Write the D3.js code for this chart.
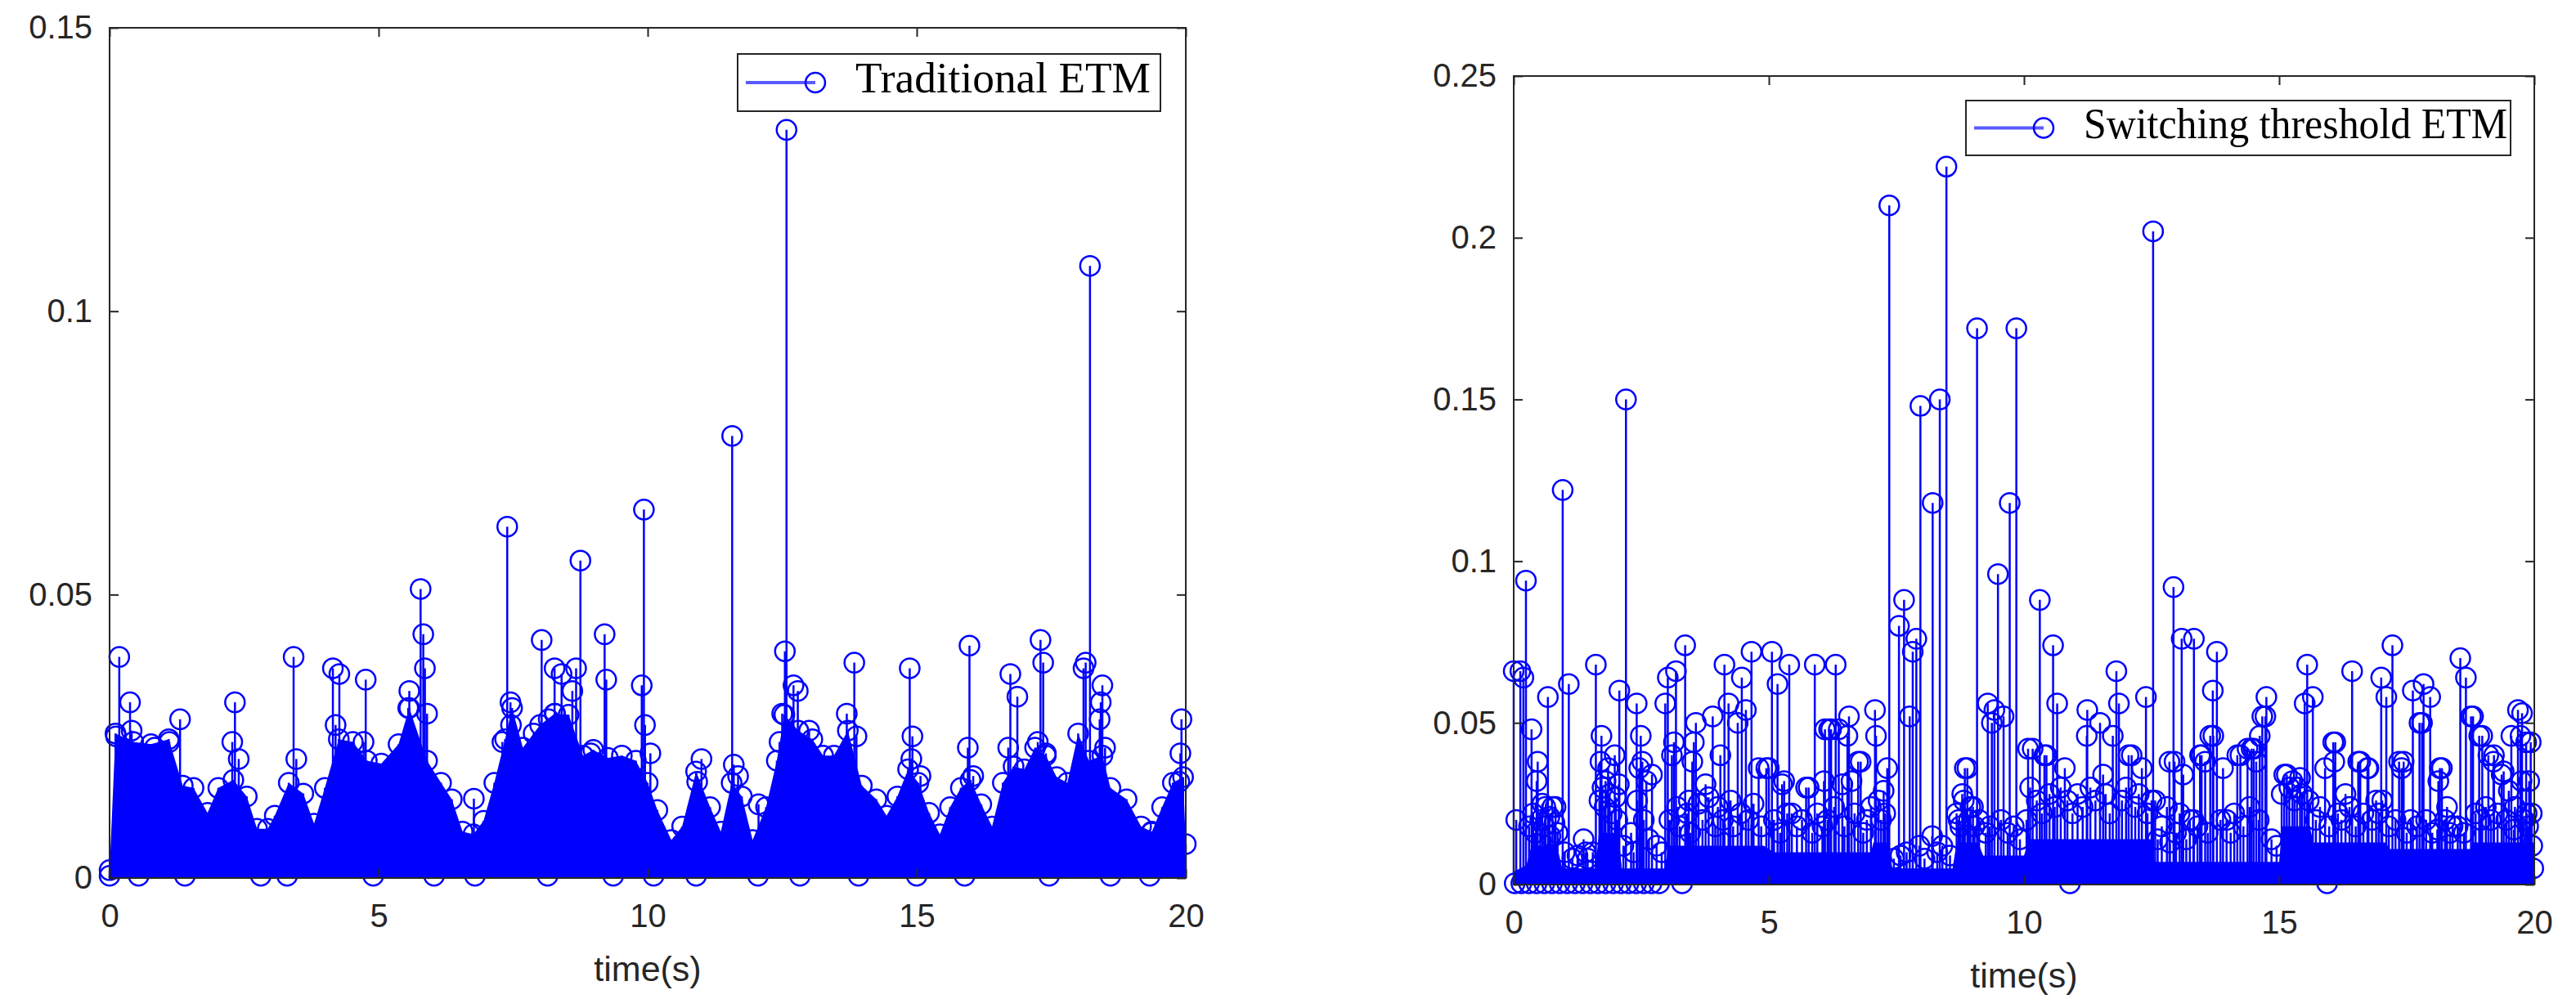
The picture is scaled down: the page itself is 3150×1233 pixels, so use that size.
<!DOCTYPE html>
<html>
<head>
<meta charset="utf-8">
<script src="https://d3js.org/d3.v7.min.js"></script>
<style>
  body { margin: 0; background: #fff; }
  svg { display: block; }
  .tick text { font-family: "Liberation Sans", Arial, sans-serif; font-size: 40px; fill: #262626; }
  .tick line { stroke: #262626; stroke-width: 2; }
  .xlabel { font-family: "Liberation Sans", Arial, sans-serif; font-size: 43px; fill: #262626; }
  .legend text { font-family: "Liberation Serif", "DejaVu Serif", serif; font-size: 52px; fill: #000; }
</style>
</head>
<body>
<div id="chart"></div>
<script>
// ---- data: [time (s), value] ----

// traditional ETM: stems standing out above the dense band
var tradPeaks = [
  [0.12,0.025],[0.18,0.039],[0.38,0.031],[0.41,0.026],[0.84,0.023],[1.11,0.024],[1.31,0.028],
  [2.28,0.024],[2.33,0.031],[2.40,0.021],[3.42,0.039],[3.47,0.021],[4.15,0.037],[4.20,0.027],
  [4.27,0.036],[4.72,0.024],[4.76,0.035],[5.55,0.030],[5.57,0.033],[5.78,0.051],[5.83,0.043],
  [5.86,0.037],[5.90,0.029],[6.77,0.014],[7.30,0.024],[7.39,0.062],[7.45,0.031],[7.46,0.027],
  [8.03,0.042],[8.16,0.028],[8.27,0.037],[8.28,0.029],[8.40,0.036],[8.60,0.033],[8.67,0.037],
  [8.75,0.056],[8.94,0.022],[9.20,0.043],[9.23,0.035],[9.89,0.034],[9.93,0.065],[9.95,0.027],
  [10.05,0.022],[10.92,0.017],[11.00,0.021],[11.57,0.078],[11.60,0.020],[11.68,0.018],
  [12.06,0.013],[12.45,0.024],[12.50,0.029],[12.55,0.040],[12.58,0.132],[12.71,0.034],
  [12.79,0.033],[13.00,0.026],[13.70,0.029],[13.84,0.038],[13.88,0.025],[14.87,0.037],
  [14.90,0.021],[14.92,0.025],[15.07,0.018],[15.95,0.023],[15.98,0.041],[16.05,0.018],
  [16.70,0.023],[16.74,0.036],[16.87,0.032],[17.25,0.024],[17.30,0.042],[17.35,0.038],
  [17.40,0.022],[18.10,0.037],[18.14,0.038],[18.22,0.108],[18.40,0.028],[18.42,0.031],
  [18.45,0.034],[18.50,0.023],[19.36,0.008],[19.88,0.017],[19.90,0.022],[19.92,0.028]
];
// traditional ETM: top of the dense overplotted stem band
var tradBand = [
  [0,0.0014],[0.11,0.0255],[0.44,0.024],[0.77,0.0236],[1.10,0.0245],[1.36,0.0163],[1.56,0.0159],
  [1.82,0.0115],[2.02,0.0159],[2.30,0.0173],[2.55,0.0144],[2.74,0.0087],[2.94,0.0087],[3.07,0.011],
  [3.33,0.0168],[3.60,0.0149],[3.80,0.0096],[4.00,0.0159],[4.26,0.0245],[4.52,0.024],[4.78,0.0207],
  [5.05,0.0202],[5.37,0.0236],[5.57,0.030],[5.90,0.0207],[6.16,0.0168],[6.36,0.0139],[6.56,0.0082],
  [6.76,0.0077],[6.95,0.0101],[7.15,0.0168],[7.35,0.0245],[7.48,0.030],[7.68,0.023],[7.88,0.0255],
  [8.00,0.027],[8.27,0.029],[8.53,0.0288],[8.80,0.0216],[8.99,0.0226],[9.26,0.0212],[9.52,0.0216],
  [9.78,0.0207],[10.00,0.0168],[10.18,0.012],[10.44,0.0067],[10.64,0.0091],[10.90,0.0188],
  [11.16,0.0125],[11.36,0.0082],[11.56,0.0168],[11.75,0.0144],[11.95,0.0067],[12.20,0.0125],
  [12.40,0.0207],[12.54,0.0288],[12.80,0.026],[13.06,0.0245],[13.26,0.0216],[13.46,0.0216],
  [13.72,0.026],[13.98,0.0163],[14.25,0.0139],[14.44,0.011],[14.64,0.0144],[14.84,0.0192],
  [15.03,0.0168],[15.23,0.0115],[15.43,0.0077],[15.62,0.0125],[15.82,0.0159],[16.00,0.0173],
  [16.20,0.013],[16.40,0.0091],[16.60,0.0168],[16.80,0.0197],[17.00,0.0192],[17.20,0.023],
  [17.40,0.0216],[17.60,0.0178],[17.80,0.0168],[18.00,0.0255],[18.20,0.0207],[18.45,0.0216],
  [18.60,0.0159],[18.90,0.0139],[19.17,0.0091],[19.37,0.0082],[19.56,0.0125],[19.76,0.0168],
  [19.95,0.0178],[20.00,0.006]
];
// traditional ETM: events sitting on zero
var tradZeros = [0,0.54,1.40,2.81,3.30,4.90,6.03,6.79,8.14,9.36,10.11,10.90,12.05,12.83,13.92,15.00,15.89,17.46,18.60,19.33];

// switching threshold ETM: individual stems (taller ones)
var switchStems = [
  [0.00,0.066],[0.05,0.020],[0.13,0.066],[0.19,0.064],[0.24,0.094],[0.35,0.048],[0.45,0.032],
  [0.47,0.038],[0.62,0.024],[0.67,0.058],[0.76,0.024],[0.82,0.024],[0.96,0.122],[1.08,0.062],
  [1.37,0.014],[1.41,0.010],[1.61,0.068],[1.70,0.038],[1.72,0.046],[1.80,0.032],[1.85,0.036],
  [1.98,0.040],[2.06,0.031],[2.07,0.060],[2.20,0.150],[2.41,0.056],[2.42,0.026],[2.46,0.036],
  [2.49,0.046],[2.52,0.038],[2.60,0.032],[2.71,0.034],[2.97,0.056],[3.02,0.064],[3.10,0.040],
  [3.14,0.044],[3.18,0.066],[3.36,0.074],[3.43,0.026],[3.50,0.038],[3.53,0.044],[3.57,0.050],
  [3.76,0.031],[3.90,0.052],[4.05,0.040],[4.13,0.068],[4.21,0.056],[4.39,0.050],[4.47,0.064],
  [4.55,0.054],[4.66,0.072],[4.80,0.036],[4.95,0.036],[5.00,0.036],[5.06,0.072],[5.17,0.062],
  [5.26,0.031],[5.30,0.032],[5.36,0.022],[5.40,0.068],[5.73,0.030],[5.78,0.030],[5.90,0.068],
  [6.08,0.032],[6.10,0.048],[6.18,0.048],[6.22,0.048],[6.31,0.068],[6.37,0.048],[6.44,0.031],
  [6.54,0.046],[6.57,0.052],[6.62,0.032],[6.75,0.038],[6.80,0.038],[7.08,0.054],[7.10,0.046],
  [7.25,0.029],[7.32,0.036],[7.36,0.210],[7.55,0.080],[7.58,0.009],[7.65,0.088],[7.76,0.052],
  [7.82,0.072],[7.89,0.076],[7.97,0.148],[8.20,0.015],[8.21,0.118],[8.35,0.150],[8.48,0.222],
  [8.72,0.020],[8.79,0.028],[8.84,0.036],[8.89,0.036],[8.95,0.024],[9.00,0.024],[9.08,0.172],
  [9.29,0.056],[9.37,0.050],[9.42,0.054],[9.49,0.096],[9.60,0.052],[9.72,0.118],[9.85,0.172],
  [10.08,0.042],[10.12,0.030],[10.17,0.042],[10.31,0.088],[10.40,0.040],[10.44,0.040],
  [10.57,0.074],[10.65,0.056],[10.80,0.036],[11.23,0.046],[11.24,0.054],[11.49,0.050],
  [11.55,0.034],[11.74,0.046],[11.81,0.066],[11.86,0.056],[12.05,0.040],[12.11,0.040],
  [12.31,0.036],[12.39,0.058],[12.50,0.026],[12.53,0.202],[12.57,0.026],[12.80,0.024],
  [12.85,0.038],[12.86,0.013],[12.93,0.092],[12.95,0.038],[13.09,0.076],[13.12,0.034],
  [13.25,0.020],[13.32,0.020],[13.33,0.076],[13.45,0.040],[13.48,0.040],[13.55,0.038],
  [13.65,0.046],[13.70,0.060],[13.71,0.046],[13.78,0.072],[13.90,0.036],[13.97,0.020],
  [14.18,0.040],[14.24,0.040],[14.38,0.042],[14.46,0.042],[14.50,0.042],[14.55,0.038],
  [14.62,0.046],[14.67,0.052],[14.73,0.052],[14.75,0.058],[15.10,0.034],[15.15,0.034],
  [15.26,0.032],[15.41,0.033],[15.50,0.056],[15.55,0.068],[15.66,0.058],[15.90,0.036],
  [16.06,0.044],[16.08,0.038],[16.10,0.044],[16.30,0.028],[16.43,0.066],[16.55,0.038],
  [16.59,0.038],[16.73,0.036],[16.75,0.036],[16.90,0.026],[17.00,0.064],[17.02,0.026],
  [17.10,0.058],[17.22,0.074],[17.35,0.038],[17.40,0.036],[17.44,0.038],[17.62,0.060],
  [17.75,0.050],[17.80,0.050],[17.83,0.062],[17.96,0.058],[18.10,0.017],[18.12,0.032],
  [18.15,0.036],[18.19,0.036],[18.29,0.024],[18.40,0.018],[18.55,0.070],[18.66,0.064],
  [18.76,0.052],[18.80,0.052],[18.92,0.046],[18.98,0.046],[19.10,0.040],[19.20,0.038],
  [19.21,0.040],[19.36,0.034],[19.40,0.035],[19.50,0.029],[19.55,0.046],[19.60,0.017],
  [19.68,0.054],[19.73,0.046],[19.75,0.032],[19.76,0.053],[19.84,0.044],[19.85,0.022],
  [19.90,0.032],[19.93,0.044],[19.95,0.022],[19.96,0.012],[19.98,0.005]
];
// switching threshold ETM: short stems crowding the lower band
var switchLowStems = [
  [0.30,0.018],[0.38,0.022],[0.42,0.016],[0.52,0.020],[0.56,0.025],[0.60,0.018],[0.70,0.021],
  [0.72,0.015],[0.80,0.019],[0.86,0.016],[1.00,0.010],[1.15,0.008],[1.25,0.009],[1.45,0.008],
  [1.55,0.010],[1.68,0.026],[1.74,0.030],[1.78,0.024],[1.88,0.028],[1.92,0.022],[2.00,0.027],
  [2.03,0.020],[2.15,0.012],[2.30,0.016],[2.35,0.010],[2.55,0.020],[2.65,0.014],[2.80,0.012],
  [2.90,0.010],[3.05,0.020],[3.20,0.024],[3.25,0.018],[3.40,0.022],[3.46,0.016],[3.62,0.025],
  [3.70,0.020],[3.82,0.027],[3.95,0.018],[4.00,0.024],[4.10,0.020],[4.25,0.026],[4.30,0.018],
  [4.45,0.022],[4.60,0.020],[4.70,0.025],[4.85,0.018],[5.10,0.020],[5.22,0.016],[5.45,0.022],
  [5.55,0.018],[5.65,0.020],[5.85,0.016],[5.95,0.022],[6.05,0.018],[6.15,0.020],[6.28,0.024],
  [6.48,0.018],[6.68,0.022],[6.85,0.016],[6.92,0.020],[7.00,0.024],[7.15,0.026],[7.20,0.020],
  [7.28,0.022],[7.45,0.008],[7.70,0.010],[7.95,0.012],[8.05,0.008],[8.30,0.010],[8.40,0.012],
  [8.55,0.009],[8.68,0.022],[8.75,0.018],[8.82,0.026],[8.92,0.020],[9.03,0.018],[9.12,0.020],
  [9.25,0.016],[9.33,0.018],[9.55,0.020],[9.68,0.016],[9.80,0.018],[9.92,0.014],[10.05,0.020],
  [10.25,0.026],[10.35,0.022],[10.50,0.028],[10.60,0.024],[10.72,0.030],[10.85,0.026],
  [10.95,0.022],[11.05,0.028],[11.15,0.024],[11.30,0.030],[11.40,0.026],[11.60,0.028],
  [11.68,0.022],[11.92,0.026],[12.00,0.030],[12.18,0.024],[12.25,0.028],[12.42,0.022],
  [12.62,0.014],[12.70,0.018],[12.98,0.016],[13.05,0.022],[13.18,0.014],[13.40,0.018],
  [13.60,0.016],[13.85,0.020],[14.05,0.016],[14.12,0.022],[14.30,0.018],[14.42,0.024],
  [14.60,0.020],[14.85,0.014],[14.95,0.012],[15.05,0.028],[15.20,0.030],[15.30,0.026],
  [15.35,0.030],[15.45,0.028],[15.58,0.026],[15.72,0.020],[15.80,0.024],[15.98,0.018],
  [16.15,0.022],[16.22,0.020],[16.38,0.024],[16.50,0.018],[16.65,0.022],[16.82,0.020],
  [16.95,0.022],[17.15,0.018],[17.28,0.020],[17.50,0.016],[17.58,0.020],[17.70,0.018],
  [17.88,0.020],[18.00,0.016],[18.25,0.020],[18.35,0.016],[18.50,0.018],[18.62,0.016],
  [18.85,0.022],[18.95,0.020],[19.05,0.024],[19.15,0.020],[19.28,0.022],[19.45,0.020],
  [19.62,0.024],[19.80,0.020],[19.88,0.018]
];
// switching threshold ETM: top of the solid low band
var switchBand = [
  [0,0.004],[0.25,0.006],[0.35,0.012],[0.85,0.012],[0.95,0.005],[1.60,0.005],[1.67,0.016],
  [2.05,0.016],[2.12,0.005],[2.95,0.005],[3.05,0.012],[4.90,0.012],[5.10,0.010],[7.00,0.010],
  [7.05,0.013],[7.35,0.013],[7.42,0.005],[8.60,0.005],[8.68,0.013],[9.10,0.013],[9.20,0.009],
  [10.00,0.009],[10.10,0.014],[12.48,0.014],[12.56,0.007],[15.00,0.007],[15.06,0.018],
  [15.60,0.018],[15.67,0.013],[17.10,0.013],[17.15,0.011],[18.75,0.011],[18.80,0.013],[20.00,0.013]
];
// switching threshold ETM: events sitting on zero
var switchZeros = [0.02,0.15,0.30,0.45,0.60,0.75,0.90,1.05,1.20,1.35,1.50,1.65,1.80,1.95,2.10,2.25,2.40,2.55,2.70,2.85,3.30,10.90,15.94];

var xTicks = [0, 5, 10, 15, 20];
var tradYTicks = [0, 0.05, 0.1, 0.15];
var switchYTicks = [0, 0.05, 0.1, 0.15, 0.2, 0.25];
var legendNames = ['Traditional ETM', 'Switching threshold ETM'];

var width = 3150, height = 1233,
    blue = '#0000ff',
    axisColor = '#262626',
    markerR = 12;

var svg = d3.select('#chart').append('svg')
    .attr('width', width)
    .attr('height', height);

function drawPanel(opts) {
    var x = d3.scaleLinear().domain([0, 20]).range([opts.left, opts.right]);
    var y = d3.scaleLinear().domain([0, opts.ymax]).range([opts.bottom, opts.top]);
    var g = svg.append('g');

    // dense band of overplotted stems
    g.append('path')
        .datum(opts.band)
        .attr('d', d3.area()
            .x(function(d) { return x(d[0]); })
            .y0(y(0))
            .y1(function(d) { return y(d[1]); }))
        .attr('fill', blue);

    var pts = opts.stems.concat(opts.zeros.map(function(t) { return [t, 0.0004]; }));
    if (opts.bandMarkers) pts = pts.concat(opts.band);

    g.append('g').selectAll('line')
        .data(pts)
        .enter().append('line')
        .attr('x1', function(d) { return x(d[0]); })
        .attr('x2', function(d) { return x(d[0]); })
        .attr('y1', y(0))
        .attr('y2', function(d) { return y(d[1]); })
        .attr('stroke', blue)
        .attr('stroke-width', 2.5);

    g.append('g').selectAll('circle')
        .data(pts)
        .enter().append('circle')
        .attr('cx', function(d) { return x(d[0]); })
        .attr('cy', function(d) { return y(d[1]); })
        .attr('r', markerR)
        .attr('fill', 'none')
        .attr('stroke', blue)
        .attr('stroke-width', 2.5);

    // axes: ticks inward on all four sides
    var fmt = function(d) { return String(d); };
    g.append('g').attr('transform', 'translate(0,' + opts.bottom + ')')
        .call(d3.axisBottom(x).tickValues(xTicks).tickFormat(fmt).tickSize(-11).tickPadding(32));
    g.append('g').attr('transform', 'translate(0,' + opts.top + ')')
        .call(d3.axisTop(x).tickValues(xTicks).tickFormat('').tickSize(-11));
    g.append('g').attr('transform', 'translate(' + opts.left + ',0)')
        .call(d3.axisLeft(y).tickValues(opts.yTicks).tickFormat(fmt).tickSize(-11).tickPadding(21));
    g.append('g').attr('transform', 'translate(' + opts.right + ',0)')
        .call(d3.axisRight(y).tickValues(opts.yTicks).tickFormat('').tickSize(-11));
    g.selectAll('.domain').remove();

    g.append('rect')
        .attr('x', opts.left).attr('y', opts.top)
        .attr('width', opts.right - opts.left)
        .attr('height', opts.bottom - opts.top)
        .attr('fill', 'none')
        .attr('stroke', axisColor)
        .attr('stroke-width', 2);

    g.append('text')
        .attr('class', 'xlabel')
        .attr('x', (opts.left + opts.right) / 2)
        .attr('y', opts.bottom + 126)
        .attr('text-anchor', 'middle')
        .text('time(s)');

    // legend
    var lg = g.append('g').attr('class', 'legend');
    var L = opts.legend;
    lg.append('rect')
        .attr('x', L.x).attr('y', L.y)
        .attr('width', L.w).attr('height', L.h)
        .attr('fill', '#fff')
        .attr('stroke', axisColor)
        .attr('stroke-width', 2);
    var my = L.y + L.h / 2;
    lg.append('line')
        .attr('x1', L.x + 10).attr('x2', L.x + 95)
        .attr('y1', my).attr('y2', my)
        .attr('stroke', '#5a5aff')
        .attr('stroke-width', 4);
    lg.append('circle')
        .attr('cx', L.x + 95).attr('cy', my)
        .attr('r', markerR)
        .attr('fill', 'none')
        .attr('stroke', blue)
        .attr('stroke-width', 2.5);
    lg.append('text')
        .attr('x', L.x + 144)
        .attr('y', my + 12)
        .attr('textLength', L.tw)
        .attr('lengthAdjust', 'spacingAndGlyphs')
        .text(L.name);
}

drawPanel({
    left: 134, right: 1450, top: 34, bottom: 1074, ymax: 0.15,
    yTicks: tradYTicks, stems: tradPeaks, band: tradBand, bandMarkers: true, zeros: tradZeros,
    legend: { x: 902, y: 66, w: 517, h: 70, tw: 361, name: legendNames[0] }
});

drawPanel({
    left: 1851, right: 3099, top: 93, bottom: 1082, ymax: 0.25,
    yTicks: switchYTicks, stems: switchStems.concat(switchLowStems), band: switchBand,
    bandMarkers: false, zeros: switchZeros,
    legend: { x: 2404, y: 123, w: 666, h: 67, tw: 518, name: legendNames[1] }
});
</script>
</body>
</html>
